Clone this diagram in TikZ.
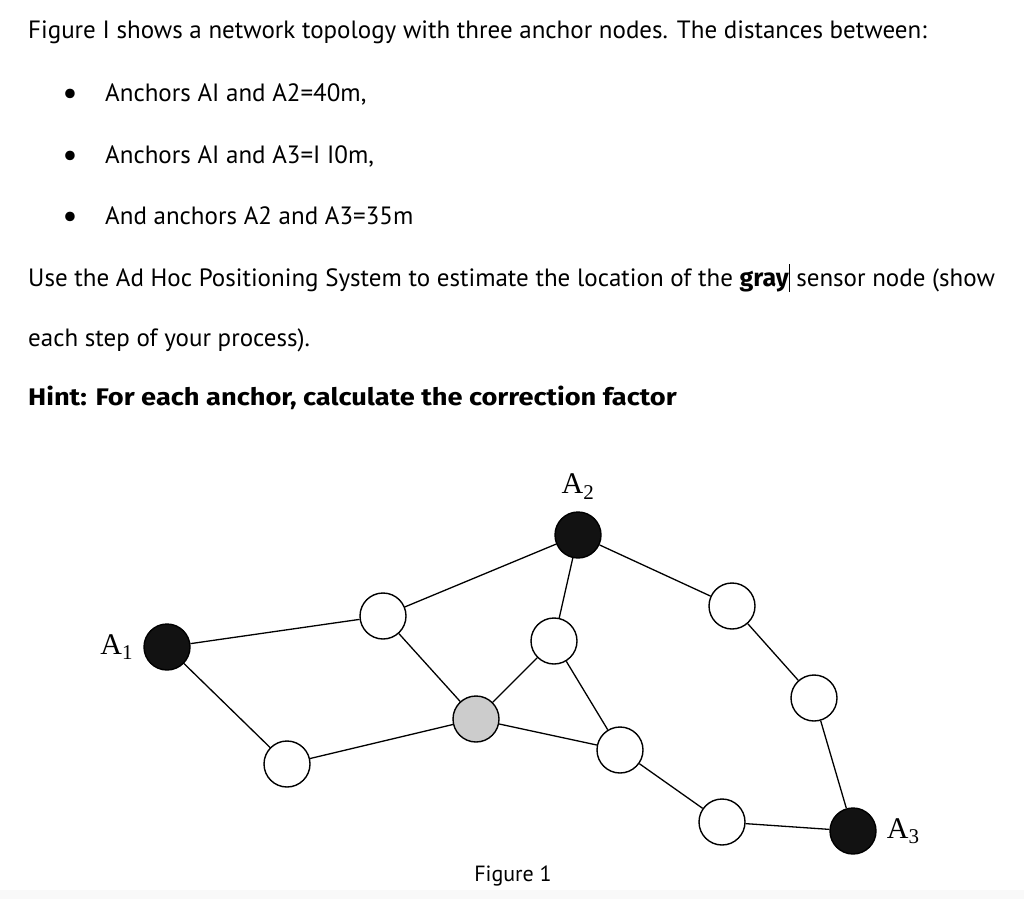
\documentclass[tikz,border=0pt]{standalone}
\usepackage{fontspec}
\setmainfont{PT Sans}
\newfontfamily\hintfont{Fira Sans}
\newfontfamily\hintwide{Fira Sans}[FakeStretch=1.135]
\newfontfamily\labelserif{Liberation Serif}
\usetikzlibrary{positioning}

\begin{document}
\begin{tikzpicture}[x=1pt, y=-1pt]
%
% Skiss:
% text of the exercise on top, network of three anchors and
% eight unknown nodes below, the gray one in the middle
%
% Styles
\tikzstyle{para} = [anchor=base west, inner sep=0pt, font={\fontsize{25}{30}\selectfont}]
\tikzstyle{hint} = [para, font={\hintwide\fontsize{24}{30}\selectfont\bfseries}]
\tikzstyle{bullet} = [anchor=base, inner sep=0pt, font={\fontsize{34}{34}\selectfont}]
\tikzstyle{anchornode} = [circle, minimum size=46pt, inner sep=0pt, draw=black, fill=black!93, line width=1.4pt]
\tikzstyle{sensor} = [anchornode, fill=white]
\tikzstyle{target} = [anchornode, fill=gray!40]
\tikzstyle{anchorlabel} = [inner sep=0pt, font={\labelserif\fontsize{30}{30}\selectfont}]
\tikzstyle{caption} = [inner sep=0pt, anchor=base, font={\fontsize{22}{24}\selectfont}]
\tikzstyle{link} = [line width=1.3pt]
% Page
\fill[white] (0,0) rectangle (1024,899);
\fill[gray!5] (0,890) rectangle (1024,899);
\useasboundingbox (0,0) rectangle (1024,899);
% Text
\node (intro) [para] at (28,39) {Figure I shows a network topology with three anchor nodes. The distances between:};
\node (dot_one) [bullet] at (70,104) {•};
\node (dist_one) [para] at (105,101) {Anchors AI and A2=40m,};
\node (dot_two) [bullet] at (70,166) {•};
\node (dist_two) [para] at (105,163) {Anchors AI and A3=I I0m,};
\node (dot_three) [bullet] at (70,227) {•};
\node (dist_three) [para] at (105,224) {And anchors A2 and A3=35m};
\node (task) [para] at (28,286) {Use the Ad Hoc Positioning System to estimate the location of the {\hintfont\bfseries gray}\rule[-6pt]{0.8pt}{28pt} sensor node (show};
\node (task_end) [para] at (28,346) {each step of your process).};
\node (hint_line) [hint] at (28,405) {Hint: For each anchor, calculate the correction factor};
% Nodes
\node (a_one) [anchornode] at (167,647) {};
\node (a_two) [anchornode] at (578,535) {};
\node (a_three) [anchornode] at (853,831) {};
\node (n_top) [sensor] at (383,616) {};
\node (n_botleft) [sensor] at (287,764) {};
\node (gray_node) [target] at (476,719) {};
\node (n_mid) [sensor] at (554,641) {};
\node (n_lowmid) [sensor] at (620,750) {};
\node (n_bottom) [sensor] at (722,822) {};
\node (n_rightup) [sensor] at (732,606) {};
\node (n_rightmid) [sensor] at (814,698) {};
% Labels
\node (lbl_one) [anchorlabel, left=10pt of a_one] {A\textsubscript{1}};
\node (lbl_two) [anchorlabel, above=12pt of a_two] {A\textsubscript{2}};
\node (lbl_three) [anchorlabel, right=10pt of a_three] {A\textsubscript{3}};
\node (fig_caption) [caption] at (513,881) {Figure 1};
% Links
\draw [link] (a_one) -- (n_top);
\draw [link] (a_one) -- (n_botleft);
\draw [link] (n_top) -- (a_two);
\draw [link] (n_top) -- (gray_node);
\draw [link] (n_botleft) -- (gray_node);
\draw [link] (gray_node) -- (n_mid);
\draw [link] (gray_node) -- (n_lowmid);
\draw [link] (n_mid) -- (a_two);
\draw [link] (n_mid) -- (n_lowmid);
\draw [link] (a_two) -- (n_rightup);
\draw [link] (n_rightup) -- (n_rightmid);
\draw [link] (n_rightmid) -- (a_three);
\draw [link] (n_lowmid) -- (n_bottom);
\draw [link] (n_bottom) -- (a_three);
\end{tikzpicture}
\end{document}
